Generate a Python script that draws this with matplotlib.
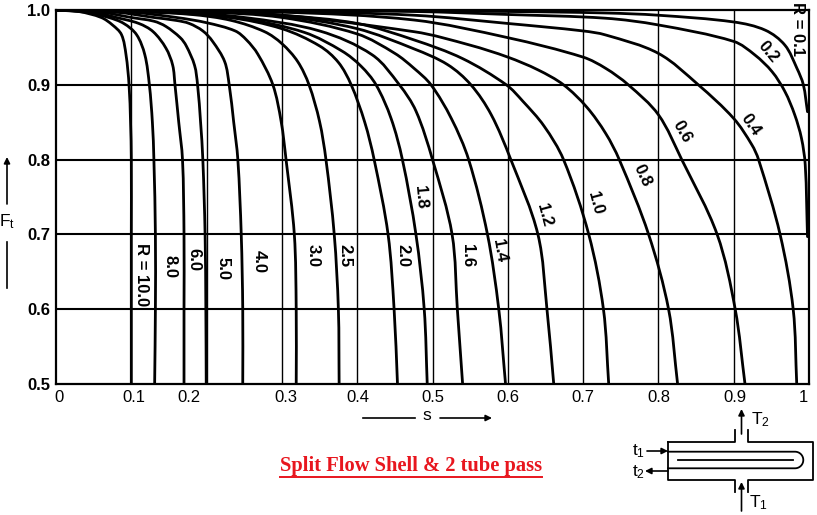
import numpy as np
import matplotlib.pyplot as plt
from matplotlib.path import Path
from matplotlib.patches import PathPatch

# readings of each R curve from the chart: s values and Ft values
s_r01 = [0.0, 0.30, 0.60, 0.73, 0.80, 0.90, 0.942, 0.968, 0.984, 0.9925, 0.998]
f_r01 = [1.0, 0.9995, 0.998, 0.996, 0.993, 0.984, 0.973, 0.953, 0.922, 0.90, 0.864]

s_r02 = [0.0, 0.30, 0.4755, 0.60, 0.73, 0.80, 0.90, 0.928, 0.951, 0.968, 0.981, 0.990, 0.995, 0.998]
f_r02 = [1.0, 0.999, 0.998, 0.994, 0.989, 0.980, 0.958, 0.940, 0.9175, 0.891, 0.860, 0.8285, 0.793, 0.697]

s_r04 = [0.0, 0.30, 0.4755, 0.60, 0.70, 0.73, 0.80, 0.853, 0.90, 0.924, 0.933, 0.9616, 0.979, 0.9837]
f_r04 = [1.0, 0.998, 0.993, 0.982, 0.972, 0.9666, 0.942, 0.90, 0.855, 0.82, 0.80, 0.70, 0.60, 0.50]

s_r06 = [0.0, 0.30, 0.4755, 0.60, 0.70, 0.73, 0.76, 0.80, 0.831, 0.878, 0.902, 0.915]
f_r06 = [1.0, 0.997, 0.9866, 0.963, 0.937, 0.922, 0.90, 0.86, 0.80, 0.70, 0.60, 0.50]

s_r08 = [0.0, 0.25, 0.4755, 0.55, 0.60, 0.64, 0.674, 0.705, 0.73, 0.748, 0.787, 0.8135, 0.8255]
f_r08 = [1.0, 0.997, 0.971, 0.953, 0.937, 0.92, 0.90, 0.87, 0.835, 0.80, 0.70, 0.60, 0.50]

s_r10 = [0.0, 0.20, 0.30, 0.40, 0.4755, 0.54, 0.598, 0.62, 0.648, 0.674, 0.7075, 0.727, 0.734]
f_r10 = [1.0, 0.998, 0.993, 0.982, 0.96, 0.935, 0.90, 0.878, 0.845, 0.80, 0.70, 0.60, 0.50]

s_r12 = [0.0, 0.20, 0.30, 0.40, 0.4755, 0.52, 0.551, 0.578, 0.604, 0.64, 0.652, 0.661]
f_r12 = [1.0, 0.998, 0.992, 0.975, 0.948, 0.927, 0.90, 0.86, 0.80, 0.70, 0.60, 0.50]

s_r14 = [0.0, 0.20, 0.30, 0.40, 0.45, 0.4755, 0.498, 0.525, 0.548, 0.573, 0.588, 0.597]
f_r14 = [1.0, 0.997, 0.99, 0.968, 0.942, 0.922, 0.90, 0.855, 0.80, 0.70, 0.60, 0.50]

s_r16 = [0.0, 0.15, 0.25, 0.35, 0.42, 0.456, 0.478, 0.50, 0.526, 0.533, 0.540]
f_r16 = [1.0, 0.998, 0.99, 0.972, 0.94, 0.90, 0.865, 0.80, 0.70, 0.60, 0.50]

s_r18 = [0.0, 0.15, 0.25, 0.33, 0.38, 0.405, 0.425, 0.445, 0.46, 0.478, 0.489, 0.493]
f_r18 = [1.0, 0.997, 0.988, 0.97, 0.945, 0.925, 0.90, 0.855, 0.80, 0.70, 0.60, 0.50]

s_r20 = [0.0, 0.12, 0.23, 0.30, 0.35, 0.375, 0.392, 0.41, 0.4225, 0.441, 0.449, 0.4535]
f_r20 = [1.0, 0.998, 0.99, 0.975, 0.952, 0.93, 0.90, 0.85, 0.80, 0.70, 0.60, 0.50]

s_r25 = [0.0, 0.10, 0.18, 0.233, 0.277, 0.30, 0.321, 0.336, 0.350, 0.3585, 0.3695, 0.375, 0.376]
f_r25 = [1.0, 0.998, 0.994, 0.986, 0.971, 0.955, 0.931, 0.90, 0.851, 0.80, 0.70, 0.60, 0.50]

s_r30 = [0.0, 0.10, 0.16, 0.20, 0.238, 0.253, 0.268, 0.288, 0.299, 0.3055, 0.3165, 0.319, 0.319]
f_r30 = [1.0, 0.997, 0.99, 0.983, 0.972, 0.96, 0.941, 0.90, 0.851, 0.80, 0.70, 0.60, 0.50]

s_r40 = [0.0, 0.08, 0.13, 0.16, 0.177, 0.195, 0.208, 0.224, 0.230, 0.236, 0.2415, 0.246, 0.248, 0.248]
f_r40 = [1.0, 0.997, 0.99, 0.986, 0.982, 0.972, 0.958, 0.931, 0.90, 0.85, 0.80, 0.70, 0.60, 0.50]

s_r50 = [0.0, 0.06, 0.10, 0.13, 0.146, 0.165, 0.173, 0.184, 0.188, 0.192, 0.195, 0.198, 0.199, 0.1995]
f_r50 = [1.0, 0.997, 0.99, 0.985, 0.978, 0.963, 0.952, 0.926, 0.90, 0.85, 0.80, 0.70, 0.60, 0.50]

s_r60 = [0.0, 0.05, 0.08, 0.11, 0.129, 0.146, 0.155, 0.158, 0.163, 0.168, 0.170, 0.170, 0.170]
f_r60 = [1.0, 0.997, 0.99, 0.982, 0.971, 0.949, 0.926, 0.90, 0.85, 0.80, 0.70, 0.60, 0.50]

s_r80 = [0.0, 0.04, 0.07, 0.09, 0.107, 0.118, 0.124, 0.128, 0.130, 0.132, 0.132, 0.131]
f_r80 = [1.0, 0.997, 0.99, 0.982, 0.967, 0.94, 0.90, 0.85, 0.80, 0.70, 0.60, 0.50]

s_r100 = [0.0, 0.03, 0.06, 0.075, 0.087, 0.093, 0.097, 0.099, 0.100, 0.100, 0.100, 0.100]
f_r100 = [1.0, 0.998, 0.99, 0.98, 0.967, 0.94, 0.90, 0.85, 0.80, 0.70, 0.60, 0.50]

curves = [(s_r01, f_r01), (s_r02, f_r02), (s_r04, f_r04), (s_r06, f_r06), (s_r08, f_r08),
          (s_r10, f_r10), (s_r12, f_r12), (s_r14, f_r14), (s_r16, f_r16), (s_r18, f_r18),
          (s_r20, f_r20), (s_r25, f_r25), (s_r30, f_r30), (s_r40, f_r40), (s_r50, f_r50),
          (s_r60, f_r60), (s_r80, f_r80), (s_r100, f_r100)]

# curve labels
label_text = ['R = 0.1', '0.2', '0.4', '0.6', '0.8', '1.0', '1.2', '1.4', '1.6', '1.8',
              '2.0', '2.5', '3.0', '4.0', '5.0', '6.0', '8.0', 'R = 10.0']
label_s = [0.985, 0.946, 0.922, 0.831, 0.778, 0.716, 0.648, 0.589, 0.546, 0.484,
           0.460, 0.383, 0.341, 0.270, 0.2216, 0.183, 0.151, 0.1133]
label_f = [0.975, 0.944, 0.846, 0.837, 0.779, 0.742, 0.726, 0.679, 0.672, 0.75,
           0.672, 0.672, 0.672, 0.6635, 0.655, 0.666, 0.657, 0.646]
label_rot = [-90, -50, -55, -60, -65, -75, -75, -80, -90, -85,
             -90, -90, -90, -90, -90, -90, -90, -90]

xtick_pos = [0.004, 0.104, 0.176, 0.305, 0.401, 0.500, 0.600, 0.700, 0.800, 0.902, 0.992]
xtick_lab = ['0', '0.1', '0.2', '0.3', '0.4', '0.5', '0.6', '0.7', '0.8', '0.9', '1']
ytick_pos = [0.5, 0.6, 0.7, 0.8, 0.9, 1.0]


def smooth_path(ax, s, f):
    # bezier through the read points, tangents taken in pixel space
    pts = ax.transData.transform(np.column_stack([s, f]))
    n = len(pts)
    tang = []
    for i in range(n):
        d = pts[min(i + 1, n - 1)] - pts[max(i - 1, 0)]
        L = np.hypot(*d)
        tang.append(d / L if L > 0 else d)
    verts = [pts[0]]
    codes = [Path.MOVETO]
    for i in range(n - 1):
        L = np.hypot(*(pts[i + 1] - pts[i]))
        verts += [pts[i] + tang[i] * L / 3, pts[i + 1] - tang[i + 1] * L / 3, pts[i + 1]]
        codes += [Path.CURVE4] * 3
    verts = ax.transData.inverted().transform(np.array(verts))
    return Path(verts, codes)


sans = 'Liberation Sans'
W, H = 817, 515
fig = plt.figure(figsize=(W / 100, H / 100), dpi=100)
ax = fig.add_axes([56 / W, 1 - 384 / H, (809 - 56) / W, (384 - 10) / H])
ax.set_xlim(0, 1)
ax.set_ylim(0.5, 1.0)

for v in [0.6, 0.7, 0.8, 0.9]:
    ax.axhline(v, color='black', lw=1.5, zorder=1)
for v in np.arange(1, 10) / 10:
    ax.axvline(v, color='black', lw=1.0, zorder=1)

for s, f in curves:
    ax.add_patch(PathPatch(smooth_path(ax, s, f), fill=False, edgecolor='black', lw=2.0,
                           joinstyle='round', capstyle='round', zorder=3))

for t, x, y, r in zip(label_text, label_s, label_f, label_rot):
    ax.text(x, y, t, rotation=r, rotation_mode='anchor', ha='center', va='center',
            fontsize=12, fontweight='bold', family=sans, zorder=4)

ax.set_xticks(xtick_pos)
ax.set_xticklabels(xtick_lab, fontsize=12, family=sans)
ax.set_yticks(ytick_pos)
ax.set_yticklabels(['%.1f' % v for v in ytick_pos], fontsize=12, family=sans, fontweight='bold')
ax.tick_params(length=0, pad=4)
for sp in ax.spines.values():
    sp.set_linewidth(1.6)

# overlay in pixel coordinates for the axis arrows, caption and sketch
ov = fig.add_axes([0, 0, 1, 1])
ov.set_xlim(0, W)
ov.set_ylim(H, 0)
ov.axis('off')

arrow = dict(arrowstyle='-|>', color='black', lw=1.2, mutation_scale=9, shrinkA=0, shrinkB=0)

# y label
ov.annotate('', xy=(7, 157), xytext=(7, 204), arrowprops=arrow)
ov.text(7, 222, r'$\mathregular{F_t}$', ha='center', va='center', fontsize=12.5, family=sans)
ov.plot([7, 7], [242, 288], color='black', lw=1.2)

# x label
ov.plot([363, 415], [418, 418], color='black', lw=1.2)
ov.text(427, 416, 's', ha='center', va='center', fontsize=12.5, family=sans)
ov.annotate('', xy=(492, 418), xytext=(440, 418), arrowprops=arrow)

# caption with underline
red = '#e8161e'
cap = ov.text(411, 466, 'Split Flow Shell & 2 tube pass', ha='center', va='center',
              color=red, fontsize=14.8, fontweight='bold', family='Liberation Serif')
fig.canvas.draw()
bb = cap.get_window_extent()
inv = ov.transData.inverted()
(x0, y0), (x1, y1) = inv.transform([(bb.x0, bb.y0), (bb.x1, bb.y1)])
ov.plot([x0, x1], [y0 + 1, y0 + 1], color=red, lw=1.4)

# shell sketch
k = dict(color='black', lw=1.3)
ov.plot([668, 735, 735], [442, 442, 430], **k)
ov.plot([748, 748, 813, 813, 748, 748], [430, 442, 442, 480, 480, 492], **k)
ov.plot([735, 735, 668, 668], [492, 480, 480, 442], **k)
th = np.linspace(np.pi / 2, -np.pi / 2, 30)
ux = np.concatenate([[668], 795 + 8.3 * np.cos(th), [668]])
uy = np.concatenate([[451.7], 460 - 8.3 * np.sin(th), [468.3]])
ov.plot(ux, uy, **k)
ov.plot([678, 793], [460, 460], **k)
ov.annotate('', xy=(668, 451), xytext=(647, 451), arrowprops=arrow)
ov.annotate('', xy=(645, 471), xytext=(668, 471), arrowprops=arrow)
ov.annotate('', xy=(741.5, 409), xytext=(741.5, 434), arrowprops=arrow)
ov.annotate('', xy=(741.5, 482), xytext=(741.5, 511), arrowprops=arrow)
ov.text(639, 451, r'$\mathregular{t_1}$', ha='center', va='center', fontsize=12.5, family=sans)
ov.text(639, 472, r'$\mathregular{t_2}$', ha='center', va='center', fontsize=12.5, family=sans)
ov.text(760, 420, r'$\mathregular{T_2}$', ha='center', va='center', fontsize=12.5, family=sans)
ov.text(758, 503, r'$\mathregular{T_1}$', ha='center', va='center', fontsize=12.5, family=sans)

fig.savefig('out.png', dpi=100)
